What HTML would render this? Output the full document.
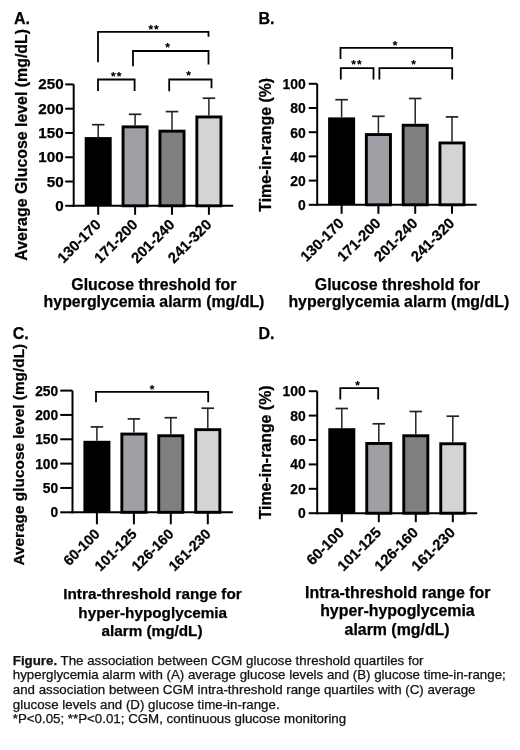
<!DOCTYPE html>
<html><head><meta charset="utf-8"><title>Figure</title>
<style>
html,body{margin:0;padding:0;background:#fff;}
body{width:520px;height:750px;overflow:hidden;}
svg{display:block;font-family:"Liberation Sans", Arial, sans-serif;}
text{stroke:#000;stroke-width:0.25px;paint-order:stroke;}
</style></head><body>
<svg width="520" height="750" viewBox="0 0 520 750">
<rect width="520" height="750" fill="#fff"/>
<text x="14.00" y="23.80" font-size="16" font-weight="bold" text-anchor="start">A.</text>
<line x1="73.70" y1="84.40" x2="73.70" y2="206.80" stroke="#000" stroke-width="2.0"/>
<line x1="65.20" y1="205.80" x2="73.70" y2="205.80" stroke="#000" stroke-width="2.0"/>
<text x="63.60" y="210.80" font-size="15.2" font-weight="bold" text-anchor="end">0</text>
<line x1="65.20" y1="181.52" x2="73.70" y2="181.52" stroke="#000" stroke-width="2.0"/>
<text x="63.60" y="186.52" font-size="15.2" font-weight="bold" text-anchor="end">50</text>
<line x1="65.20" y1="157.24" x2="73.70" y2="157.24" stroke="#000" stroke-width="2.0"/>
<text x="63.60" y="162.24" font-size="15.2" font-weight="bold" text-anchor="end">100</text>
<line x1="65.20" y1="132.96" x2="73.70" y2="132.96" stroke="#000" stroke-width="2.0"/>
<text x="63.60" y="137.96" font-size="15.2" font-weight="bold" text-anchor="end">150</text>
<line x1="65.20" y1="108.68" x2="73.70" y2="108.68" stroke="#000" stroke-width="2.0"/>
<text x="63.60" y="113.68" font-size="15.2" font-weight="bold" text-anchor="end">200</text>
<line x1="65.20" y1="84.40" x2="73.70" y2="84.40" stroke="#000" stroke-width="2.0"/>
<text x="63.60" y="89.40" font-size="15.2" font-weight="bold" text-anchor="end">250</text>
<line x1="72.70" y1="205.80" x2="233.20" y2="205.80" stroke="#000" stroke-width="2.0"/>
<line x1="98.20" y1="124.70" x2="98.20" y2="137.10" stroke="#222" stroke-width="1.5"/>
<line x1="91.95" y1="124.70" x2="104.45" y2="124.70" stroke="#222" stroke-width="1.7"/>
<rect x="84.70" y="137.10" width="27.00" height="68.70" fill="#000"/>
<line x1="98.20" y1="205.80" x2="98.20" y2="214.80" stroke="#000" stroke-width="2.0"/>
<text transform="translate(101.80,225.50) rotate(-45)" font-size="14.8" font-weight="bold" text-anchor="end">130-170</text>
<line x1="135.10" y1="114.30" x2="135.10" y2="125.40" stroke="#222" stroke-width="1.5"/>
<line x1="128.85" y1="114.30" x2="141.35" y2="114.30" stroke="#222" stroke-width="1.7"/>
<rect x="123.05" y="126.85" width="24.10" height="78.95" fill="#a19fa6" stroke="#000" stroke-width="2.9"/>
<line x1="135.10" y1="205.80" x2="135.10" y2="214.80" stroke="#000" stroke-width="2.0"/>
<text transform="translate(138.70,225.50) rotate(-45)" font-size="14.8" font-weight="bold" text-anchor="end">171-200</text>
<line x1="172.00" y1="111.60" x2="172.00" y2="129.70" stroke="#222" stroke-width="1.5"/>
<line x1="165.75" y1="111.60" x2="178.25" y2="111.60" stroke="#222" stroke-width="1.7"/>
<rect x="159.95" y="131.15" width="24.10" height="74.65" fill="#7f7f7f" stroke="#000" stroke-width="2.9"/>
<line x1="172.00" y1="205.80" x2="172.00" y2="214.80" stroke="#000" stroke-width="2.0"/>
<text transform="translate(175.60,225.50) rotate(-45)" font-size="14.8" font-weight="bold" text-anchor="end">201-240</text>
<line x1="208.90" y1="98.20" x2="208.90" y2="115.50" stroke="#222" stroke-width="1.5"/>
<line x1="202.65" y1="98.20" x2="215.15" y2="98.20" stroke="#222" stroke-width="1.7"/>
<rect x="196.85" y="116.95" width="24.10" height="88.85" fill="#d4d4d4" stroke="#000" stroke-width="2.9"/>
<line x1="208.90" y1="205.80" x2="208.90" y2="214.80" stroke="#000" stroke-width="2.0"/>
<text transform="translate(212.50,225.50) rotate(-45)" font-size="14.8" font-weight="bold" text-anchor="end">241-320</text>
<path d="M98.00 62.20 V31.80 H208.50 V36.80" fill="none" stroke="#000" stroke-width="1.8" stroke-linejoin="miter" stroke-linecap="butt"/>
<text x="153.60" y="34.09" font-size="11.2" font-weight="bold" text-anchor="middle" font-family="Noto Sans CJK JP, Liberation Sans, sans-serif">**</text>
<path d="M133.00 66.30 V51.00 H208.50 V64.50" fill="none" stroke="#000" stroke-width="1.8" stroke-linejoin="miter" stroke-linecap="butt"/>
<text x="167.50" y="52.29" font-size="11.2" font-weight="bold" text-anchor="middle" font-family="Noto Sans CJK JP, Liberation Sans, sans-serif">*</text>
<path d="M98.00 91.00 V79.50 H134.60 V91.00" fill="none" stroke="#000" stroke-width="1.8" stroke-linejoin="miter" stroke-linecap="butt"/>
<text x="116.20" y="81.09" font-size="11.2" font-weight="bold" text-anchor="middle" font-family="Noto Sans CJK JP, Liberation Sans, sans-serif">**</text>
<path d="M169.20 91.20 V79.50 H211.50 V88.30" fill="none" stroke="#000" stroke-width="1.8" stroke-linejoin="miter" stroke-linecap="butt"/>
<text x="188.50" y="80.49" font-size="11.2" font-weight="bold" text-anchor="middle" font-family="Noto Sans CJK JP, Liberation Sans, sans-serif">*</text>
<text transform="translate(26.50,144.80) rotate(-90)" font-size="15.9" font-weight="bold" text-anchor="middle">Average Glucose level (mg/dL)</text>
<text x="153.90" y="290.20" font-size="15.9" font-weight="bold" text-anchor="middle">Glucose threshold for</text>
<text x="154.00" y="306.90" font-size="15.9" font-weight="bold" text-anchor="middle">hyperglycemia alarm (mg/dL)</text>
<text x="258.50" y="23.50" font-size="16" font-weight="bold" text-anchor="start">B.</text>
<line x1="317.20" y1="83.80" x2="317.20" y2="205.80" stroke="#000" stroke-width="2.0"/>
<line x1="308.70" y1="204.80" x2="317.20" y2="204.80" stroke="#000" stroke-width="2.0"/>
<text x="305.80" y="210.10" font-size="13.9" font-weight="bold" text-anchor="end">0</text>
<line x1="308.70" y1="180.60" x2="317.20" y2="180.60" stroke="#000" stroke-width="2.0"/>
<text x="305.80" y="185.90" font-size="13.9" font-weight="bold" text-anchor="end">20</text>
<line x1="308.70" y1="156.40" x2="317.20" y2="156.40" stroke="#000" stroke-width="2.0"/>
<text x="305.80" y="161.70" font-size="13.9" font-weight="bold" text-anchor="end">40</text>
<line x1="308.70" y1="132.20" x2="317.20" y2="132.20" stroke="#000" stroke-width="2.0"/>
<text x="305.80" y="137.50" font-size="13.9" font-weight="bold" text-anchor="end">60</text>
<line x1="308.70" y1="108.00" x2="317.20" y2="108.00" stroke="#000" stroke-width="2.0"/>
<text x="305.80" y="113.30" font-size="13.9" font-weight="bold" text-anchor="end">80</text>
<line x1="308.70" y1="83.80" x2="317.20" y2="83.80" stroke="#000" stroke-width="2.0"/>
<text x="305.80" y="89.10" font-size="13.9" font-weight="bold" text-anchor="end">100</text>
<line x1="316.20" y1="204.80" x2="476.60" y2="204.80" stroke="#000" stroke-width="2.0"/>
<line x1="341.60" y1="99.70" x2="341.60" y2="117.40" stroke="#222" stroke-width="1.5"/>
<line x1="335.35" y1="99.70" x2="347.85" y2="99.70" stroke="#222" stroke-width="1.7"/>
<rect x="328.10" y="117.40" width="27.00" height="87.40" fill="#000"/>
<line x1="341.60" y1="204.80" x2="341.60" y2="213.80" stroke="#000" stroke-width="2.0"/>
<text transform="translate(344.90,224.20) rotate(-45)" font-size="14.8" font-weight="bold" text-anchor="end">130-170</text>
<line x1="378.40" y1="116.30" x2="378.40" y2="133.10" stroke="#222" stroke-width="1.5"/>
<line x1="372.15" y1="116.30" x2="384.65" y2="116.30" stroke="#222" stroke-width="1.7"/>
<rect x="366.35" y="134.55" width="24.10" height="70.25" fill="#a19fa6" stroke="#000" stroke-width="2.9"/>
<line x1="378.40" y1="204.80" x2="378.40" y2="213.80" stroke="#000" stroke-width="2.0"/>
<text transform="translate(381.70,224.20) rotate(-45)" font-size="14.8" font-weight="bold" text-anchor="end">171-200</text>
<line x1="415.20" y1="98.50" x2="415.20" y2="123.80" stroke="#222" stroke-width="1.5"/>
<line x1="408.95" y1="98.50" x2="421.45" y2="98.50" stroke="#222" stroke-width="1.7"/>
<rect x="403.15" y="125.25" width="24.10" height="79.55" fill="#7f7f7f" stroke="#000" stroke-width="2.9"/>
<line x1="415.20" y1="204.80" x2="415.20" y2="213.80" stroke="#000" stroke-width="2.0"/>
<text transform="translate(418.50,224.20) rotate(-45)" font-size="14.8" font-weight="bold" text-anchor="end">201-240</text>
<line x1="452.00" y1="116.90" x2="452.00" y2="141.50" stroke="#222" stroke-width="1.5"/>
<line x1="445.75" y1="116.90" x2="458.25" y2="116.90" stroke="#222" stroke-width="1.7"/>
<rect x="439.95" y="142.95" width="24.10" height="61.85" fill="#d4d4d4" stroke="#000" stroke-width="2.9"/>
<line x1="452.00" y1="204.80" x2="452.00" y2="213.80" stroke="#000" stroke-width="2.0"/>
<text transform="translate(455.30,224.20) rotate(-45)" font-size="14.8" font-weight="bold" text-anchor="end">241-320</text>
<path d="M340.50 58.90 V47.80 H452.20 V59.30" fill="none" stroke="#000" stroke-width="1.8" stroke-linejoin="miter" stroke-linecap="butt"/>
<text x="395.20" y="49.79" font-size="11.2" font-weight="bold" text-anchor="middle" font-family="Noto Sans CJK JP, Liberation Sans, sans-serif">*</text>
<path d="M340.80 79.40 V68.10 H373.50 V79.40" fill="none" stroke="#000" stroke-width="1.8" stroke-linejoin="miter" stroke-linecap="butt"/>
<text x="356.45" y="68.89" font-size="11.2" font-weight="bold" text-anchor="middle" font-family="Noto Sans CJK JP, Liberation Sans, sans-serif">**</text>
<path d="M379.40 79.40 V68.10 H452.20 V79.50" fill="none" stroke="#000" stroke-width="1.8" stroke-linejoin="miter" stroke-linecap="butt"/>
<text x="413.60" y="69.19" font-size="11.2" font-weight="bold" text-anchor="middle" font-family="Noto Sans CJK JP, Liberation Sans, sans-serif">*</text>
<text transform="translate(270.50,144.80) rotate(-90)" font-size="15.9" font-weight="bold" text-anchor="middle">Time-in-range (%)</text>
<text x="397.40" y="290.00" font-size="15.9" font-weight="bold" text-anchor="middle">Glucose threshold for</text>
<text x="398.80" y="307.00" font-size="15.9" font-weight="bold" text-anchor="middle">hyperglycemia alarm (mg/dL)</text>
<text x="12.80" y="338.50" font-size="16" font-weight="bold" text-anchor="start">C.</text>
<line x1="72.50" y1="390.60" x2="72.50" y2="513.30" stroke="#000" stroke-width="2.0"/>
<line x1="60.20" y1="512.30" x2="72.50" y2="512.30" stroke="#000" stroke-width="2.0"/>
<text x="58.20" y="517.30" font-size="13.8" font-weight="bold" text-anchor="end">0</text>
<line x1="60.20" y1="487.96" x2="72.50" y2="487.96" stroke="#000" stroke-width="2.0"/>
<text x="58.20" y="492.96" font-size="13.8" font-weight="bold" text-anchor="end">50</text>
<line x1="60.20" y1="463.62" x2="72.50" y2="463.62" stroke="#000" stroke-width="2.0"/>
<text x="58.20" y="468.62" font-size="13.8" font-weight="bold" text-anchor="end">100</text>
<line x1="60.20" y1="439.28" x2="72.50" y2="439.28" stroke="#000" stroke-width="2.0"/>
<text x="58.20" y="444.28" font-size="13.8" font-weight="bold" text-anchor="end">150</text>
<line x1="60.20" y1="414.94" x2="72.50" y2="414.94" stroke="#000" stroke-width="2.0"/>
<text x="58.20" y="419.94" font-size="13.8" font-weight="bold" text-anchor="end">200</text>
<line x1="60.20" y1="390.60" x2="72.50" y2="390.60" stroke="#000" stroke-width="2.0"/>
<text x="58.20" y="395.60" font-size="13.8" font-weight="bold" text-anchor="end">250</text>
<line x1="71.50" y1="512.30" x2="232.90" y2="512.30" stroke="#000" stroke-width="2.0"/>
<line x1="96.90" y1="426.90" x2="96.90" y2="440.80" stroke="#222" stroke-width="1.5"/>
<line x1="90.65" y1="426.90" x2="103.15" y2="426.90" stroke="#222" stroke-width="1.7"/>
<rect x="83.40" y="440.80" width="27.00" height="71.50" fill="#000"/>
<line x1="96.90" y1="512.30" x2="96.90" y2="524.30" stroke="#000" stroke-width="2.0"/>
<text transform="translate(100.65,534.90) rotate(-45)" font-size="14.3" font-weight="bold" text-anchor="end">60-100</text>
<line x1="133.90" y1="418.90" x2="133.90" y2="432.60" stroke="#222" stroke-width="1.5"/>
<line x1="127.65" y1="418.90" x2="140.15" y2="418.90" stroke="#222" stroke-width="1.7"/>
<rect x="121.85" y="434.05" width="24.10" height="78.25" fill="#a19fa6" stroke="#000" stroke-width="2.9"/>
<line x1="133.90" y1="512.30" x2="133.90" y2="524.30" stroke="#000" stroke-width="2.0"/>
<text transform="translate(137.65,534.90) rotate(-45)" font-size="14.3" font-weight="bold" text-anchor="end">101-125</text>
<line x1="170.80" y1="417.70" x2="170.80" y2="434.30" stroke="#222" stroke-width="1.5"/>
<line x1="164.55" y1="417.70" x2="177.05" y2="417.70" stroke="#222" stroke-width="1.7"/>
<rect x="158.75" y="435.75" width="24.10" height="76.55" fill="#7f7f7f" stroke="#000" stroke-width="2.9"/>
<line x1="170.80" y1="512.30" x2="170.80" y2="524.30" stroke="#000" stroke-width="2.0"/>
<text transform="translate(174.55,534.90) rotate(-45)" font-size="14.3" font-weight="bold" text-anchor="end">126-160</text>
<line x1="207.80" y1="408.20" x2="207.80" y2="428.20" stroke="#222" stroke-width="1.5"/>
<line x1="201.55" y1="408.20" x2="214.05" y2="408.20" stroke="#222" stroke-width="1.7"/>
<rect x="195.75" y="429.65" width="24.10" height="82.65" fill="#d4d4d4" stroke="#000" stroke-width="2.9"/>
<line x1="207.80" y1="512.30" x2="207.80" y2="524.30" stroke="#000" stroke-width="2.0"/>
<text transform="translate(211.55,534.90) rotate(-45)" font-size="14.3" font-weight="bold" text-anchor="end">161-230</text>
<path d="M96.00 402.30 V391.90 H208.20 V402.30" fill="none" stroke="#000" stroke-width="1.8" stroke-linejoin="miter" stroke-linecap="butt"/>
<text x="152.00" y="393.59" font-size="11.2" font-weight="bold" text-anchor="middle" font-family="Noto Sans CJK JP, Liberation Sans, sans-serif">*</text>
<text transform="translate(24.00,454.70) rotate(-90)" font-size="15.4" font-weight="bold" text-anchor="middle">Average glucose level (mg/dL)</text>
<text x="152.50" y="598.90" font-size="15.3" font-weight="bold" text-anchor="middle">Intra-threshold range for</text>
<text x="152.70" y="617.70" font-size="15.3" font-weight="bold" text-anchor="middle">hyper-hypoglycemia</text>
<text x="152.00" y="636.40" font-size="15.3" font-weight="bold" text-anchor="middle">alarm (mg/dL)</text>
<text x="258.50" y="339.30" font-size="16" font-weight="bold" text-anchor="start">D.</text>
<line x1="317.20" y1="391.20" x2="317.20" y2="514.20" stroke="#000" stroke-width="2.0"/>
<line x1="308.70" y1="513.20" x2="317.20" y2="513.20" stroke="#000" stroke-width="2.0"/>
<text x="305.80" y="518.20" font-size="13.9" font-weight="bold" text-anchor="end">0</text>
<line x1="308.70" y1="488.80" x2="317.20" y2="488.80" stroke="#000" stroke-width="2.0"/>
<text x="305.80" y="493.80" font-size="13.9" font-weight="bold" text-anchor="end">20</text>
<line x1="308.70" y1="464.40" x2="317.20" y2="464.40" stroke="#000" stroke-width="2.0"/>
<text x="305.80" y="469.40" font-size="13.9" font-weight="bold" text-anchor="end">40</text>
<line x1="308.70" y1="440.00" x2="317.20" y2="440.00" stroke="#000" stroke-width="2.0"/>
<text x="305.80" y="445.00" font-size="13.9" font-weight="bold" text-anchor="end">60</text>
<line x1="308.70" y1="415.60" x2="317.20" y2="415.60" stroke="#000" stroke-width="2.0"/>
<text x="305.80" y="420.60" font-size="13.9" font-weight="bold" text-anchor="end">80</text>
<line x1="308.70" y1="391.20" x2="317.20" y2="391.20" stroke="#000" stroke-width="2.0"/>
<text x="305.80" y="396.20" font-size="13.9" font-weight="bold" text-anchor="end">100</text>
<line x1="316.20" y1="513.20" x2="477.20" y2="513.20" stroke="#000" stroke-width="2.0"/>
<line x1="341.80" y1="408.50" x2="341.80" y2="428.20" stroke="#222" stroke-width="1.5"/>
<line x1="335.55" y1="408.50" x2="348.05" y2="408.50" stroke="#222" stroke-width="1.7"/>
<rect x="328.30" y="428.20" width="27.00" height="85.00" fill="#000"/>
<line x1="341.80" y1="513.20" x2="341.80" y2="522.20" stroke="#000" stroke-width="2.0"/>
<text transform="translate(345.00,533.50) rotate(-45)" font-size="14.8" font-weight="bold" text-anchor="end">60-100</text>
<line x1="378.80" y1="423.80" x2="378.80" y2="442.00" stroke="#222" stroke-width="1.5"/>
<line x1="372.55" y1="423.80" x2="385.05" y2="423.80" stroke="#222" stroke-width="1.7"/>
<rect x="366.75" y="443.45" width="24.10" height="69.75" fill="#a19fa6" stroke="#000" stroke-width="2.9"/>
<line x1="378.80" y1="513.20" x2="378.80" y2="522.20" stroke="#000" stroke-width="2.0"/>
<text transform="translate(382.00,533.50) rotate(-45)" font-size="14.8" font-weight="bold" text-anchor="end">101-125</text>
<line x1="415.80" y1="411.50" x2="415.80" y2="434.30" stroke="#222" stroke-width="1.5"/>
<line x1="409.55" y1="411.50" x2="422.05" y2="411.50" stroke="#222" stroke-width="1.7"/>
<rect x="403.75" y="435.75" width="24.10" height="77.45" fill="#7f7f7f" stroke="#000" stroke-width="2.9"/>
<line x1="415.80" y1="513.20" x2="415.80" y2="522.20" stroke="#000" stroke-width="2.0"/>
<text transform="translate(419.00,533.50) rotate(-45)" font-size="14.8" font-weight="bold" text-anchor="end">126-160</text>
<line x1="452.80" y1="416.20" x2="452.80" y2="442.30" stroke="#222" stroke-width="1.5"/>
<line x1="446.55" y1="416.20" x2="459.05" y2="416.20" stroke="#222" stroke-width="1.7"/>
<rect x="440.75" y="443.75" width="24.10" height="69.45" fill="#d4d4d4" stroke="#000" stroke-width="2.9"/>
<line x1="452.80" y1="513.20" x2="452.80" y2="522.20" stroke="#000" stroke-width="2.0"/>
<text transform="translate(456.00,533.50) rotate(-45)" font-size="14.8" font-weight="bold" text-anchor="end">161-230</text>
<path d="M340.30 399.50 V388.20 H378.20 V399.50" fill="none" stroke="#000" stroke-width="1.8" stroke-linejoin="miter" stroke-linecap="butt"/>
<text x="357.70" y="390.39" font-size="11.2" font-weight="bold" text-anchor="middle" font-family="Noto Sans CJK JP, Liberation Sans, sans-serif">*</text>
<text transform="translate(270.50,452.40) rotate(-90)" font-size="15.9" font-weight="bold" text-anchor="middle">Time-in-range (%)</text>
<text x="397.80" y="597.50" font-size="15.9" font-weight="bold" text-anchor="middle">Intra-threshold range for</text>
<text x="397.40" y="616.30" font-size="15.9" font-weight="bold" text-anchor="middle">hyper-hypoglycemia</text>
<text x="397.10" y="634.90" font-size="15.9" font-weight="bold" text-anchor="middle">alarm (mg/dL)</text>
<text x="12.8" y="664.80" font-size="13.3" font-weight="normal" fill="#111"><tspan font-weight="bold">Figure.</tspan> The association between CGM glucose threshold quartiles for</text>
<text x="12.8" y="679.40" font-size="13.3" font-weight="normal" fill="#111">hyperglycemia alarm with (A) average glucose levels and (B) glucose time-in-range;</text>
<text x="12.8" y="694.00" font-size="13.3" font-weight="normal" fill="#111">and association between CGM intra-threshold range quartiles with (C) average</text>
<text x="12.8" y="708.60" font-size="13.3" font-weight="normal" fill="#111">glucose levels and (D) glucose time-in-range.</text>
<text x="12.8" y="723.20" font-size="13.3" font-weight="normal" fill="#111">*P&lt;0.05; **P&lt;0.01; CGM, continuous glucose monitoring</text>
</svg>
</body></html>
